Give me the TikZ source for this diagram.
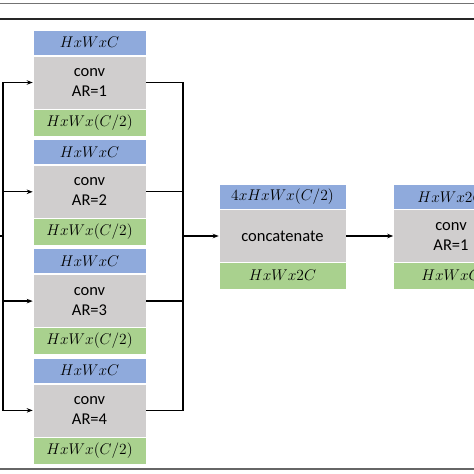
\RequirePackage{fix-cm}
\documentclass[tikz,border=0pt]{standalone}
\usepackage{fontspec}
\setmainfont{Carlito}
\usetikzlibrary{arrows.meta}

\definecolor{dimblue}{RGB}{143,170,220}
\definecolor{opgray}{RGB}{208,206,206}
\definecolor{outgreen}{RGB}{169,209,142}

\begin{document}
\begin{tikzpicture}[
    x=1pt, y=-1pt,
    box/.style={draw=white, line width=0.6pt, inner sep=0pt, minimum width=113pt},
    dimbox/.style={box, fill=dimblue, minimum height=25pt, font=\fontsize{15.5}{18}\selectfont},
    opbox/.style={box, fill=opgray, minimum height=53pt, align=center, font=\fontsize{16.5}{20}\selectfont},
    outbox/.style={box, fill=outgreen, minimum height=27pt, font=\fontsize{15.5}{18}\selectfont},
    link/.style={line width=1.3pt},
    >={Stealth[length=6pt,width=4.5pt]} % arrow tips
]
    \clip (0,0) rectangle (474,474);
    % frame lines
    \draw[line width=1.5pt, draw=black!55] (0,3.7) -- (474,3.7);
    \draw[line width=2pt, draw=black!85] (0,19.3) -- (474,19.3);
    \draw[line width=2.5pt, draw=black!60] (0,469) -- (474,469);

    % branches
    \node[dimbox] (b1) at (89.5,42.5) {$HxWxC$};
    \node[opbox]  (c1) at (89.5,82.5) {conv\\AR=1};
    \node[outbox] (g1) at (89.5,122.5) {$HxWx(C/2)$};

    \node[dimbox] (b2) at (89.5,151.8) {$HxWxC$};
    \node[opbox]  (c2) at (89.5,191.8) {conv\\AR=2};
    \node[outbox] (g2) at (89.5,231.8) {$HxWx(C/2)$};

    \node[dimbox] (b3) at (89.5,261.1) {$HxWxC$};
    \node[opbox]  (c3) at (89.5,301.1) {conv\\AR=3};
    \node[outbox] (g3) at (89.5,341.1) {$HxWx(C/2)$};

    \node[dimbox] (b4) at (89.5,370.4) {$HxWxC$};
    \node[opbox]  (c4) at (89.5,410.4) {conv\\AR=4};
    \node[outbox] (g4) at (89.5,450.4) {$HxWx(C/2)$};

    % concatenation
    \node[dimbox, minimum width=127pt] (bcat) at (282.5,197) {$4xHxWx(C/2)$};
    \node[opbox, minimum width=127pt]  (cat)  at (282.5,236) {concatenate};
    \node[outbox, minimum width=127pt] (gcat) at (282.5,275.5) {$HxWx2C$};

    % last conv (cut by the right edge)
    \node[dimbox, minimum width=115pt] (bfin) at (451,197) {$HxWx2C$};
    \node[opbox, minimum width=115pt]  (fin)  at (451,236) {conv\\AR=1};
    \node[outbox, minimum width=115pt] (gfin) at (451,275.5) {$HxWxC$};

    \coordinate (in) at (0,236);
    \coordinate (split) at (3,236);
    \coordinate (merge) at (183,236);

    \draw[link] (in) -- (split);
    \draw[link,->] (split) |- (c1);
    \draw[link,->] (split) |- (c2);
    \draw[link,->] (split) |- (c3);
    \draw[link,->] (split) |- (c4);
    \draw[link] (c1) -| (merge);
    \draw[link] (c2) -| (merge);
    \draw[link] (c3) -| (merge);
    \draw[link] (c4) -| (merge);
    \draw[link,->] (merge) -- (cat);
    \draw[link,->] (cat) -- (fin);
\end{tikzpicture}
\end{document}
